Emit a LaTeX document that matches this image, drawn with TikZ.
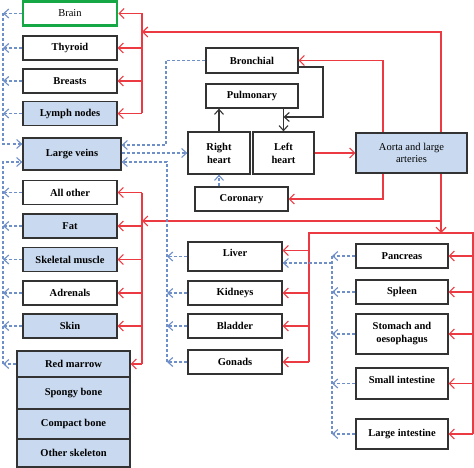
\documentclass[tikz,border=0pt]{standalone}
\usepackage{fontspec}
\setmainfont{Liberation Serif}
\usetikzlibrary{arrows.meta}
\definecolor{artred}{HTML}{EC3A43}
\definecolor{veinblue}{HTML}{6F8FC8}
\definecolor{tissue}{HTML}{C9DAF0}
\definecolor{brainframe}{HTML}{16A845}

\begin{document}
\begin{tikzpicture}[x=1pt,y=-1pt,
  box/.style={draw=black!80,line width=1.3pt,fill=white,minimum width=94pt,minimum height=24pt,inner sep=1pt,align=center,font=\bfseries\fontsize{10.5}{13}\selectfont},
  tbox/.style={box,fill=tissue},
  art/.style={artred,line width=1.1pt},
  artarr/.style={art,-{Straight Barb[length=5pt,width=10pt]}},
  ven/.style={veinblue,line width=1.1pt,dash pattern=on 3pt off 2pt},
  venarr/.style={ven,-{Straight Barb[length=5pt,width=9pt]}},
  flow/.style={black!80,line width=1.1pt,-{Straight Barb[length=5pt,width=9pt]}}]
  \useasboundingbox (0,0) rectangle (474,468);

  % tissues fed by the upper branch
  \node[box,draw=brainframe,line width=2.8pt,font=\fontsize{10.5}{13}\selectfont] (brain) at (70,13.5) {Brain};
  \node[box] (thyroid) at (70,48) {Thyroid};
  \node[box] (breasts) at (70,81) {Breasts};
  \node[tbox] (lymph) at (70,113.5) {Lymph nodes};
  \node[tbox,minimum width=98pt,minimum height=32pt] (veins) at (72,154) {Large veins};
  % tissues fed by the lower branch
  \node[box] (allother) at (70,192.5) {All other};
  \node[tbox] (fat) at (70,226) {Fat};
  \node[tbox] (muscle) at (70,259.5) {Skeletal muscle};
  \node[box] (adrenals) at (70,293) {Adrenals};
  \node[tbox] (skin) at (70,326) {Skin};
  \node[tbox,minimum width=113pt,minimum height=26pt] (marrow) at (73.5,364) {Red marrow};
  \node[tbox,minimum width=113pt,minimum height=32pt] (spongy) at (73.5,393) {Spongy bone};
  \node[tbox,minimum width=113pt,minimum height=30pt] (compact) at (73.5,424) {Compact bone};
  \node[tbox,minimum width=113pt,minimum height=28pt] (otherbone) at (73.5,453) {Other skeleton};

  % heart and lungs
  \node[box,minimum width=92pt,minimum height=25pt] (bronchial) at (252,60.5) {Bronchial};
  \node[box,minimum width=92pt] (pulmonary) at (252,96) {Pulmonary};
  \node[box,minimum width=62pt,minimum height=42pt] (rheart) at (219,153) {Right\\heart};
  \node[box,minimum width=61pt,minimum height=42pt] (lheart) at (283.5,153) {Left\\heart};
  \node[box,minimum width=93pt] (coronary) at (241.5,199) {Coronary};
  \node[tbox,minimum width=111pt,minimum height=40pt,font=\fontsize{10.5}{12.5}\selectfont] (aorta) at (411.5,153) {Aorta and large\\arteries};

  % abdominal organs
  \node[box,minimum height=29pt,text depth=8pt] (liver) at (235,256.5) {Liver};
  \node[box] (kidneys) at (235,293) {Kidneys};
  \node[box] (bladder) at (235,326) {Bladder};
  \node[box] (gonads) at (235,362) {Gonads};
  \node[box,minimum width=92pt] (pancreas) at (402,256) {Pancreas};
  \node[box,minimum width=92pt] (spleen) at (402,292) {Spleen};
  \node[box,minimum width=92pt,minimum height=40pt] (stomach) at (402,334) {Stomach and\\oesophagus};
  \node[box,minimum width=92pt,minimum height=31pt,text depth=8pt] (smallint) at (402,383.5) {Small intestine};
  \node[box,minimum width=92pt,minimum height=30pt] (largeint) at (402,434) {Large intestine};

  % junctions
  \coordinate (topbus) at (142,32);
  \coordinate (lowbus) at (142,221);
  \coordinate (gutleft) at (309,233);
  \coordinate (gutright) at (473,233);
  \coordinate (gutdrop) at (441,233);
  \coordinate (vbus) at (3,144);
  \coordinate (vbuslow) at (3,162);
  \coordinate (midbus) at (166,145);
  \coordinate (midbuslow) at (167,162);
  \coordinate (gutbus) at (332,256);
  \coordinate (bronchloop) at (323,117);
  \coordinate (bronchout) at ([yshift=-6.5pt]bronchial.east);
  \coordinate (liverart) at ([yshift=6pt]liver.east);
  \coordinate (liverven) at ([yshift=-6.5pt]liver.east);

  % arterial side
  \draw[artarr] (lheart) -- (aorta);
  \draw[artarr] ([xshift=29.5pt]aorta.north) |- (topbus);
  \draw[art] (brain.east -| topbus) -- (lymph.east -| topbus);
  \foreach \n in {brain,thyroid,breasts,lymph}
    \draw[artarr] (\n.east -| topbus) -- (\n.east);
  \draw[artarr] ([xshift=-28.5pt]aorta.north) |- (bronchial.east);
  \draw[artarr] ([xshift=-28.5pt]aorta.south) |- (coronary.east);
  \draw[artarr] ([xshift=29.5pt]aorta.south) -- (gutdrop);
  \draw[artarr] (gutdrop |- lowbus) -- (lowbus);
  \draw[art] (allother.east -| lowbus) -- (marrow.east -| lowbus);
  \foreach \n in {allother,fat,muscle,adrenals,skin,marrow}
    \draw[artarr] (\n.east -| lowbus) -- (\n.east);
  \draw[art] (gonads.east -| gutleft) -- (gutleft) -- (gutright) -- (largeint.east -| gutright);
  \draw[artarr] (liverart -| gutleft) -- (liverart);
  \foreach \n in {kidneys,bladder,gonads}
    \draw[artarr] (\n.east -| gutleft) -- (\n.east);
  \foreach \n in {pancreas,spleen,stomach,smallint,largeint}
    \draw[artarr] (\n.east -| gutright) -- (\n.east);

  % venous side
  \foreach \n in {brain,thyroid,breasts,lymph,allother,fat,muscle,adrenals,skin,marrow}
    \draw[venarr] (\n.west) -- (\n.west -| vbus);
  \draw[venarr] (brain.west -| vbus) -- (vbus) -- (veins.west |- vbus);
  \draw[venarr] (marrow.west -| vbus) -- (vbuslow) -- (veins.west |- vbuslow);
  \draw[venarr] (bronchial.west) -| (midbus) -- (veins.east |- midbus);
  \draw[venarr] (veins.east |- rheart.west) -- (rheart.west);
  \foreach \n in {liver,kidneys,bladder,gonads}
    \draw[venarr] (\n.west) -- (\n.west -| midbuslow);
  \draw[venarr] (gonads.west -| midbuslow) -- (midbuslow) -- (veins.east |- midbuslow);
  \draw[venarr] (rheart.south |- coronary.north) -- (rheart.south);
  \foreach \n in {pancreas,spleen,stomach,smallint,largeint}
    \draw[venarr] (\n.west) -- (\n.west -| gutbus);
  \draw[ven] (pancreas.west -| gutbus) -- (largeint.west -| gutbus);
  \draw[venarr] (liverven -| gutbus) -- (liverven);

  % pulmonary loop
  \draw[flow] (rheart.north) -- (rheart.north |- pulmonary.south);
  \draw[flow] (lheart.north |- pulmonary.south) -- (lheart.north);
  \draw[flow] (bronchout) -| (bronchloop) -- (bronchloop -| lheart.north);
\end{tikzpicture}
\end{document}
